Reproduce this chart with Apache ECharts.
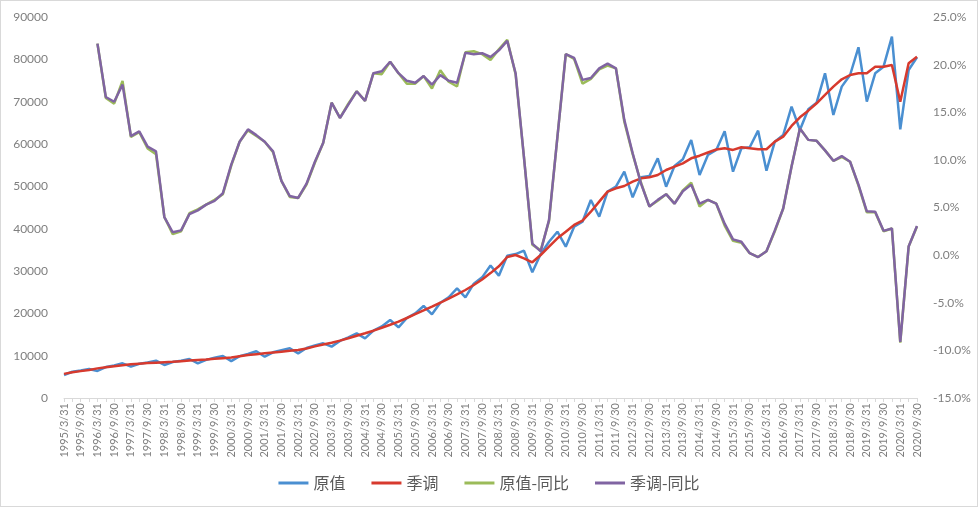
<!DOCTYPE html>
<html>
<head>
<meta charset="utf-8">
<script src="https://cdn.jsdelivr.net/npm/echarts@6/dist/echarts.min.js"></script>
<style>
html,body{margin:0;padding:0;background:#fff;}
#c{width:976px;height:505px;border:1px solid #d9d9d9;}
</style>
</head>
<body>
<div id="c"></div>
<script>
// categories: quarter ends 1995Q1 .. 2020Q3
const years = [1995,1996,1997,1998,1999,2000,2001,2002,2003,2004,2005,2006,2007,2008,2009,2010,2011,2012,2013,2014,2015,2016,2017,2018,2019,2020];
const quarterEnds = ['3/31','6/30','9/30','12/31'];
const categories = [];
years.forEach(y => quarterEnds.forEach(q => { if (categories.length < 103) categories.push(y + '/' + q); }));

const seriesNames = ['原值', '季调', '原值-同比', '季调-同比'];

// 原值
const rawValue = [
 5430, 6200, 6500, 6850, 6380, 7300, 7700, 8190, 7400, 8100, 8400, 8820,
 7800, 8500, 8800, 9210, 8190, 9000, 9500, 9920, 8700, 9900, 10400, 11030,
 9760, 10800, 11300, 11740, 10550, 11800, 12400, 12920, 12130, 13500, 14300, 15280,
 14100, 15900, 16900, 18430, 16700, 18900, 20000, 21730, 19770, 22500, 23800, 25910,
 23790, 27000, 28500, 31300, 28900, 33600, 34000, 34800, 29700, 34000, 36900, 39290,
 35750, 40470, 41650, 46770, 42830, 48740, 49920, 53460, 47410, 52140, 52450, 56620,
 49920, 54810, 56390, 60950, 52680, 57400, 58590, 63000, 53460, 58990, 59220, 63150,
 53700, 60550, 62130, 68820, 63310, 68200, 69760, 76700, 66860, 73550, 76300, 82850,
 70000, 76700, 78270, 85360, 63470, 77490, 80490
];

// 季调
const seasonalAdj = [
 5700, 6100, 6350, 6600, 7000, 7250, 7500, 7750, 7950, 8100, 8250, 8350,
 8450, 8550, 8700, 8850, 8980, 9100, 9250, 9400, 9550, 9850, 10150, 10350,
 10550, 10750, 10950, 11150, 11340, 11700, 12200, 12650, 13070, 13550, 14100, 14700,
 15280, 15900, 16600, 17300, 18030, 18900, 19800, 20700, 21570, 22500, 23500, 24500,
 25510, 26700, 28000, 29500, 31100, 33300, 33780, 33000, 32060, 33780, 35750, 37720,
 39290, 40870, 41890, 44010, 46380, 48740, 49530, 50080, 51100, 51890, 52140, 52680,
 53860, 54650, 55440, 56620, 57240, 58000, 58700, 58990, 58600, 59220, 58990, 58750,
 58750, 60550, 61730, 64260, 66310, 67870, 69620, 71580, 73550, 75290, 76300, 76700,
 76700, 78270, 78270, 78670, 70000, 79070, 80630
];

// 原值-同比 (%)
const rawYoY = [
 null, null, null, null, 22.2, 16.5, 15.9, 18.3, 12.4, 12.9, 11.2, 10.6,
 4.0, 2.2, 2.5, 4.4, 4.8, 5.3, 5.8, 6.4, 9.4, 11.9, 13.1, 12.5,
 11.9, 10.8, 7.8, 6.1, 6.0, 7.4, 9.7, 11.8, 16.0, 14.4, 15.9, 17.2,
 16.2, 19.1, 19.0, 20.3, 19.1, 18.0, 18.0, 18.8, 17.5, 19.4, 18.2, 17.7,
 21.3, 21.4, 21.1, 20.5, 21.6, 22.6, 19.0, 10.3, 1.1, 0.5, 3.6, 12.4,
 21.1, 20.6, 18.0, 18.5, 19.5, 19.9, 19.6, 14.0, 10.6, 7.6, 5.1, 5.7,
 6.4, 5.4, 6.8, 7.6, 5.1, 5.8, 5.4, 3.1, 1.5, 1.3, 0.2, -0.2,
 0.4, 2.5, 4.9, 9.3, 13.3, 12.1, 12.0, 11.0, 9.9, 10.3, 9.8, 7.3,
 4.5, 4.5, 2.5, 2.8, -9.2, 0.9, 3.0
];

// 季调-同比 (%)
const adjYoY = [
 null, null, null, null, 22.2, 16.6, 16.1, 17.9, 12.5, 13.0, 11.4, 10.9,
 4.0, 2.4, 2.6, 4.3, 4.7, 5.3, 5.7, 6.5, 9.5, 11.9, 13.2, 12.6,
 11.9, 10.9, 7.8, 6.2, 6.0, 7.5, 9.8, 11.8, 16.0, 14.4, 15.8, 17.2,
 16.2, 19.1, 19.3, 20.3, 19.1, 18.3, 18.1, 18.8, 17.9, 18.9, 18.3, 18.1,
 21.25, 21.1, 21.2, 20.8, 21.5, 22.5, 19.1, 10.3, 1.2, 0.4, 3.7, 12.4,
 21.1, 20.7, 18.4, 18.6, 19.6, 20.1, 19.6, 14.2, 10.7, 7.5, 5.1, 5.8,
 6.4, 5.4, 6.7, 7.4, 5.4, 5.8, 5.4, 3.3, 1.65, 1.4, 0.2, -0.2,
 0.4, 2.6, 4.9, 9.3, 13.3, 12.1, 12.0, 11.0, 9.9, 10.4, 9.8, 7.4,
 4.6, 4.55, 2.55, 2.8, -9.1, 0.9, 3.05
];

const leftTicks = { min: 0, max: 90000, interval: 10000 };
const rightTicks = { min: -15, max: 25, interval: 5 };

const colors = ['#4a8fd1', '#d73a2e', '#9bbb59', '#8064a2'];

const chart = echarts.init(document.getElementById('c'), null, { renderer: 'canvas' });
const labelFont = 'Lato, "Open Sans", "DejaVu Sans", sans-serif';

chart.setOption({
  animation: false,
  color: colors,
  grid: { left: 63, right: 60, top: 16, bottom: 108, outerBoundsMode: 'none', containLabel: false },
  legend: {
    bottom: 10,
    left: 'center',
    itemWidth: 30,
    itemHeight: 3,
    itemGap: 26,
    icon: 'rect',
    data: seriesNames,
    textStyle: { fontSize: 16, color: '#595959', fontFamily: '"Noto Sans CJK SC", sans-serif' }
  },
  xAxis: {
    type: 'category',
    data: categories,
    boundaryGap: false,
    axisLine: { show: true, lineStyle: { color: '#d9d9d9', width: 1 } },
    axisTick: { show: true, interval: 0, length: 4, lineStyle: { color: '#d9d9d9' } },
    axisLabel: { interval: 1, rotate: 90, fontSize: 11, color: '#7f7f7f', margin: 5, fontFamily: labelFont },
    splitLine: { show: false }
  },
  yAxis: [
    {
      type: 'value',
      min: leftTicks.min, max: leftTicks.max, interval: leftTicks.interval,
      axisLine: { show: false }, axisTick: { show: false },
      splitLine: { show: false },
      axisLabel: { fontSize: 12, color: '#7f7f7f', margin: 16, fontFamily: labelFont,
        formatter: v => String(v) }
    },
    {
      type: 'value',
      min: rightTicks.min, max: rightTicks.max, interval: rightTicks.interval,
      axisLine: { show: false }, axisTick: { show: false },
      splitLine: { show: false },
      axisLabel: { fontSize: 12, color: '#7f7f7f', margin: 16, fontFamily: labelFont,
        formatter: v => v.toFixed(1) + '%' }
    }
  ],
  series: [
    { name: seriesNames[0], type: 'line', data: rawValue, yAxisIndex: 0, showSymbol: false, symbol: 'none',
      lineStyle: { width: 2.5, color: colors[0] } },
    { name: seriesNames[1], type: 'line', data: seasonalAdj, yAxisIndex: 0, showSymbol: false, symbol: 'none',
      lineStyle: { width: 2.5, color: colors[1] } },
    { name: seriesNames[2], type: 'line', data: rawYoY, yAxisIndex: 1, showSymbol: false, symbol: 'none',
      lineStyle: { width: 2.5, color: colors[2] } },
    { name: seriesNames[3], type: 'line', data: adjYoY, yAxisIndex: 1, showSymbol: false, symbol: 'none',
      lineStyle: { width: 2.5, color: colors[3] } }
  ]
});
</script>
</body>
</html>
